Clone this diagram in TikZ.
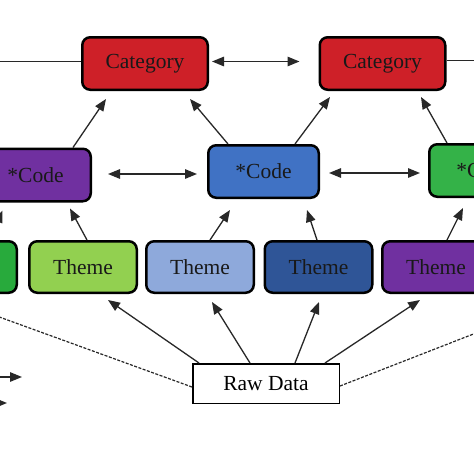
\documentclass[tikz,border=0pt]{standalone}
\usepackage{fontspec}
\setmainfont{Liberation Serif}
\usetikzlibrary{arrows.meta,calc}
\definecolor{catred}{RGB}{206,32,40}
\definecolor{codepurple}{RGB}{112,48,160}
\definecolor{codeblue}{RGB}{64,114,196}
\definecolor{codegreen}{RGB}{52,178,72}
\definecolor{thgreen}{RGB}{40,170,60}
\definecolor{thlightgreen}{RGB}{146,208,80}
\definecolor{thlightblue}{RGB}{142,169,219}
\definecolor{thdarkblue}{RGB}{47,85,151}
\definecolor{thpurple}{RGB}{112,48,160}
\definecolor{linegray}{RGB}{40,40,40}
\begin{document}
\begin{tikzpicture}[x=1pt,y=-1pt,
  box/.style={draw=black, line width=2.5pt, rounded corners=8pt, inner sep=0pt,
    text=black!90, font=\fontsize{21.5}{24}\selectfont},
  catbox/.style={box, minimum width=125.5pt, minimum height=52.5pt},
  codebox/.style={box, minimum width=110.5pt, minimum height=52.5pt},
  themebox/.style={box, minimum width=107.5pt, minimum height=51.5pt},
  rawbox/.style={draw=black, line width=1.5pt, fill=white, inner sep=0pt,
    minimum width=146.5pt, minimum height=39.5pt, font=\fontsize{21.5}{24}\selectfont},
  arr/.style={draw=linegray, line width=1.3pt, -{Triangle[length=12pt,width=9.5pt]}},
  darr/.style={draw=linegray, line width=1.3pt, {Triangle[length=12pt,width=9.5pt]}-{Triangle[length=12pt,width=9.5pt]}},
  plain/.style={draw=linegray, line width=1.3pt},
  dline/.style={draw=linegray, line width=1.2pt, dash pattern=on 3pt off 1.5pt}]
\useasboundingbox (0,0) rectangle (474,474);
\fill[white] (0,0) rectangle (474,474);
\clip (0,0) rectangle (474,474);

% categories
\node[catbox, fill=catred] (cat1) at (145,63.5) {Category};
\node[catbox, fill=catred] (cat2) at (382.5,63.5) {Category};
% codes
\node[codebox, fill=codepurple] (code1) at (35.5,175) {*Code};
\node[codebox, fill=codeblue] (code2) at (263.5,171.5) {*Code};
\node[codebox, fill=codegreen] (code3) at (484.5,170.5) {*Code};
% themes
\node[themebox, fill=thgreen] (th0) at (-37,267) {Theme};
\node[themebox, fill=thlightgreen] (th1) at (83,267) {Theme};
\node[themebox, fill=thlightblue] (th2) at (200,267) {Theme};
\node[themebox, fill=thdarkblue] (th3) at (318.5,267) {Theme};
\node[themebox, fill=thpurple] (th4) at (436,267) {Theme};
% raw data
\node[rawbox] (raw) at (266,383.5) {Raw Data};

% off-page ends
\coordinate (catL) at (-10,61.5);
\coordinate (catR) at (484,60.5);
\coordinate (dashL) at (-20,310);
\coordinate (dashR) at (494,326);
\coordinate (legA0) at (-20,377);
\coordinate (legA1) at (22,377);
\coordinate (legB0) at (-20,403);
\coordinate (legB1) at (7,403);

% category row links
\draw[plain] (catL) -- ($(cat1.west)+(0,-2)$);
\draw[plain] ($(cat2.east)+(0,-3)$) -- (catR);
\draw[darr] ($(cat1.east)+(3,-2)$) -- ($(cat2.west)+(-19,-2)$);

% code row links
\draw[darr] ($(code1.east)+(16,-1)$) -- ($(code2.west)+(-10,2.5)$);
\draw[darr] ($(code2.east)+(9,1.5)$) -- ($(code3.west)+(-8,2.5)$);

% code -> category
\draw[arr] ($(code1.north)+(37.5,0)$) -- ($(cat1.south)+(-39,8)$);
\draw[arr] ($(code2.north)+(-35.5,0)$) -- ($(cat1.south)+(45,8)$);
\draw[arr] ($(code2.north)+(31.5,0)$) -- ($(cat2.south)+(-52.5,6)$);
\draw[arr] ($(code3.north)+(-37.5,0)$) -- ($(cat2.south)+(38.5,6)$);

% theme -> code
\draw[arr] ($(th0.north)+(27,0)$) -- ($(code1.south)+(-33,8)$);
\draw[arr] ($(th1.north)+(4,0)$) -- ($(code1.south)+(34.5,6)$);
\draw[arr] ($(th2.north)+(10,0)$) -- ($(code2.south)+(-33.5,11)$);
\draw[arr] ($(th3.north)+(-1.5,0)$) -- ($(code2.south)+(43.5,11)$);
\draw[arr] ($(th4.north)+(11,0)$) -- ($(code3.south)+(-21.5,10)$);

% raw -> theme
\draw[arr] ($(raw.north west)+(7,0)$) -- ($(th1.south)+(25,6)$);
\draw[arr] ($(raw.north)+(-16,0)$) -- ($(th2.south)+(12,8)$);
\draw[arr] ($(raw.north)+(29,0)$) -- ($(th3.south)+(0.5,8)$);
\draw[arr] ($(raw.north)+(59,0)$) -- ($(th4.south)+(-16,6)$);
\draw[dline] ($(raw.west)+(0,3.5)$) -- (dashL);
\draw[dline] ($(raw.east)+(0,2.5)$) -- (dashR);

% partial arrows at lower left
\draw[arr] (legA0) -- (legA1);
\draw[arr] (legB0) -- (legB1);
\end{tikzpicture}
\end{document}
